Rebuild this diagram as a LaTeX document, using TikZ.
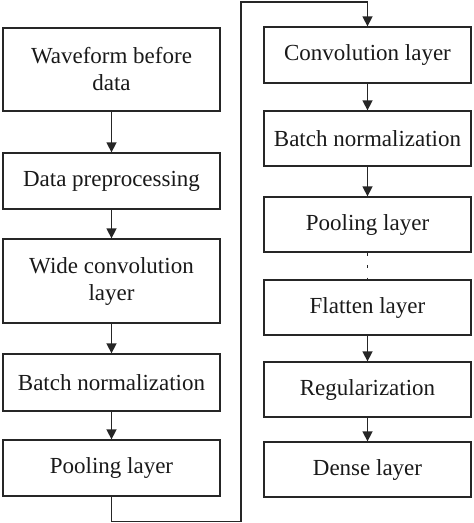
\documentclass[tikz,border=0pt]{standalone}
\usepackage{fontspec}
\setmainfont{Liberation Serif}
\usetikzlibrary{arrows.meta}
\begin{document}
\begin{tikzpicture}[x=1pt,y=-1pt,
  box/.style={draw=black!85, line width=1.3pt, inner sep=0pt, align=center,
    font=\fontsize{23}{27}\selectfont, text=black!90},
  lbox/.style={box, minimum width=217pt},
  rbox/.style={box, minimum width=207pt},
  arr/.style={draw=black!85, line width=1.5pt, -{Triangle[length=10pt,width=10pt]}},
  conn/.style={draw=black!85, line width=1.5pt}]
\useasboundingbox (0,0) rectangle (474,523);
\node[lbox, minimum height=83pt] (b1) at (111.5,69.5) {Waveform before\\data};
\node[lbox, minimum height=56pt] (b2) at (111.5,181) {Data preprocessing};
\node[lbox, minimum height=84pt] (b3) at (111.5,281) {Wide convolution\\layer};
\node[lbox, minimum height=57pt] (b4) at (111.5,382.5) {Batch normalization};
\node[lbox, minimum height=56pt] (b5) at (111.5,468) {Pooling layer};
\node[rbox, minimum height=56pt] (r1) at (367.5,55) {Convolution layer};
\node[rbox, minimum height=55pt] (r2) at (367.5,138.5) {Batch normalization};
\node[rbox, minimum height=55pt] (r3) at (367.5,224.5) {Pooling layer};
\node[rbox, minimum height=55pt] (r4) at (367.5,307.5) {Flatten layer};
\node[rbox, minimum height=55pt] (r5) at (367.5,389.5) {Regularization};
\node[rbox, minimum height=55pt] (r6) at (367.5,469.5) {Dense layer};
\coordinate (c1) at (111.5,521.5);
\coordinate (c2) at (241,521.5);
\coordinate (c3) at (241,2);
\coordinate (c4) at (367.5,2);
\draw[arr] (b1) -- (b2);
\draw[arr] (b2) -- (b3);
\draw[arr] (b3) -- (b4);
\draw[arr] (b4) -- (b5);
\draw[arr] (b5.south) -- (c1) -- (c2) -- (c3) -- (c4) -- (r1.north);
\draw[arr] (r1) -- (r2);
\draw[arr] (r2) -- (r3);
\draw[draw=black!85, line width=1.8pt, dash pattern=on 3pt off 9.5pt] (r3.south) -- (r4.north);
\draw[arr] (r4) -- (r5);
\draw[arr] (r5) -- (r6);
\end{tikzpicture}
\end{document}
